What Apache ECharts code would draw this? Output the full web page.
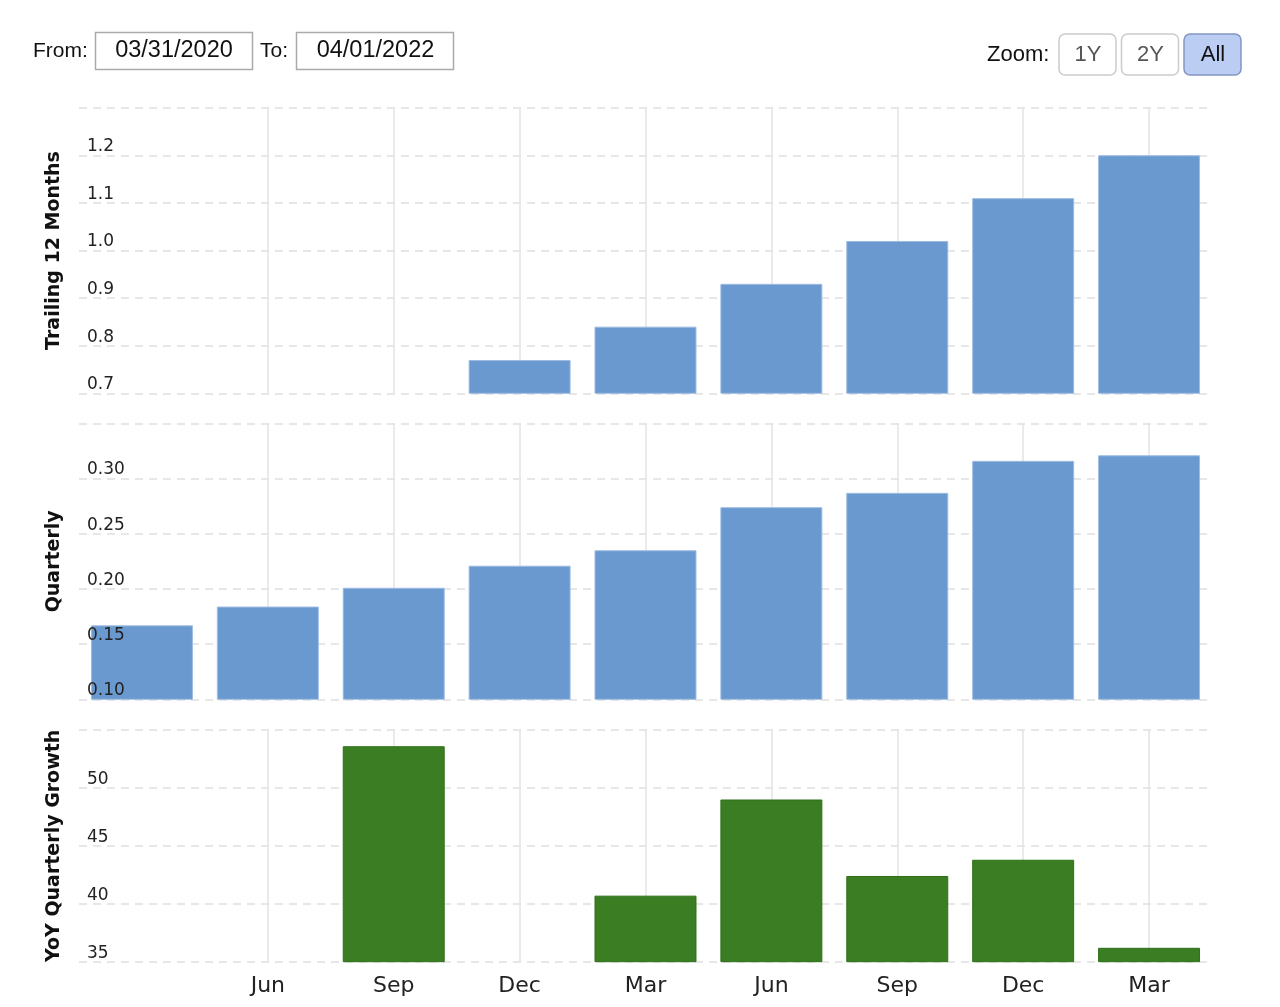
<!DOCTYPE html>
<html><head><meta charset="utf-8">
<script src="https://cdn.jsdelivr.net/npm/echarts@6/dist/echarts.min.js"></script>
<style>html,body{margin:0;padding:0;background:#fff;}#c{width:1280px;height:1007px;}</style>
</head><body><div id="c"></div>
<script>
// ---- data ----
const quarters = ['2020-03-31','2020-06-30','2020-09-30','2020-12-31','2021-03-31','2021-06-30','2021-09-30','2021-12-31','2022-03-31'];
const monthLabels = ['Mar','Jun','Sep','Dec','Mar','Jun','Sep','Dec','Mar'];
const ttmEps = [null, null, null, 0.77, 0.84, 0.93, 1.02, 1.11, 1.20];
const quarterlyEps = [0.167, 0.184, 0.201, 0.221, 0.235, 0.274, 0.287, 0.316, 0.321];
const yoyGrowth = [null, null, 53.6, null, 40.7, 49.0, 42.4, 43.8, 36.2];
const panelTitles = ['Trailing 12 Months', 'Quarterly', 'YoY Quarterly Growth'];
const fromDate = '03/31/2020';
const toDate = '04/01/2022';
const zoomButtons = ['1Y', '2Y', 'All'];

const FONT = 'DejaVu Sans';
const UIFONT = 'Liberation Sans';

const chart = echarts.init(document.getElementById('c'), null, {renderer: 'canvas'});

const grids = [
  {left: 79, right: 68, top: 107.7, height: 285.6},
  {left: 79, right: 68, top: 423.3, height: 276},
  {left: 79, right: 68, top: 730, height: 231.7}
];

function xAxisFor(i, showLabels) {
  return {
    type: 'category', gridIndex: i, data: quarters, boundaryGap: true,
    axisLine: {show: false}, axisTick: {show: false},
    axisLabel: {
      show: showLabels, interval: (idx) => idx > 0,
      formatter: (v, idx) => monthLabels[idx],
      fontFamily: FONT, fontSize: 22, color: '#222', margin: 14
    },
    splitLine: {
      show: true, alignWithLabel: true, interval: (idx) => idx > 0,
      lineStyle: {color: '#e3e3e3', width: 1.5}
    }
  };
}

function yPair(i, min, max, interval, name, decimals) {
  return [
    {
      type: 'value', gridIndex: i, position: 'left', min, max, interval,
      name, nameLocation: 'middle', nameGap: 15,
      nameTextStyle: {fontFamily: FONT, fontWeight: 'bold', fontSize: 19, color: '#111'},
      axisLine: {show: false}, axisTick: {show: false}, axisLabel: {show: false},
      splitLine: {show: true, lineStyle: {color: '#e0e0e0', width: 1.5, type: [8, 6]}}
    },
    {
      type: 'value', gridIndex: i, position: 'left', min, max, interval, z: 10,
      axisLine: {show: false}, axisTick: {show: false}, splitLine: {show: false},
      axisLabel: {
        inside: true, margin: 8, showMaxLabel: false, verticalAlign: 'bottom',
        lineHeight: 17,
        fontFamily: FONT, fontSize: 17, color: '#222',
        formatter: (v) => v.toFixed(decimals)
      }
    }
  ];
}

const yAxes = [].concat(
  yPair(0, 0.7, 1.3, 0.1, panelTitles[0], 1),
  yPair(1, 0.10, 0.35, 0.05, panelTitles[1], 2),
  yPair(2, 35, 55, 5, panelTitles[2], 0)
);

const blueStyle = {color: '#6a99cf', borderColor: '#9dbbe2', borderWidth: 1};
const greenStyle = {color: '#3a7d22', borderColor: '#2e7119', borderWidth: 1};

const header = [
  {type: 'text', x: 33, y: 51, style: {text: 'From:', fontFamily: UIFONT, fontSize: 21, fill: '#111', verticalAlign: 'middle', align: 'left'}},
  {type: 'rect', shape: {x: 95.5, y: 32.5, width: 157, height: 37}, style: {fill: '#fff', stroke: '#aaaaaa', lineWidth: 1.5}},
  {type: 'text', x: 174, y: 51, style: {text: fromDate, fontFamily: UIFONT, fontSize: 23.5, fill: '#111', verticalAlign: 'middle', align: 'center'}},
  {type: 'text', x: 260, y: 51, style: {text: 'To:', fontFamily: UIFONT, fontSize: 21, fill: '#111', verticalAlign: 'middle', align: 'left'}},
  {type: 'rect', shape: {x: 296.5, y: 32.5, width: 157, height: 37}, style: {fill: '#fff', stroke: '#aaaaaa', lineWidth: 1.5}},
  {type: 'text', x: 375.5, y: 51, style: {text: toDate, fontFamily: UIFONT, fontSize: 23.5, fill: '#111', verticalAlign: 'middle', align: 'center'}},
  {type: 'text', x: 987, y: 55, style: {text: 'Zoom:', fontFamily: UIFONT, fontSize: 22, fill: '#111', verticalAlign: 'middle', align: 'left'}}
];
const btnX = [1059, 1121.5, 1184];
zoomButtons.forEach((b, k) => {
  const active = k === zoomButtons.length - 1;
  header.push({type: 'rect', shape: {x: btnX[k], y: 34, width: 57, height: 41, r: 6},
    style: {fill: active ? '#bccdf3' : '#ffffff', stroke: active ? '#8295c4' : '#cccccc', lineWidth: 1.5}});
  header.push({type: 'text', x: btnX[k] + 29, y: 55, style: {text: b, fontFamily: UIFONT, fontSize: 22, fill: active ? '#111' : '#555', verticalAlign: 'middle', align: 'center'}});
});

chart.setOption({
  animation: false,
  backgroundColor: '#fff',
  grid: grids,
  xAxis: [xAxisFor(0, false), xAxisFor(1, false), xAxisFor(2, true)],
  yAxis: yAxes,
  graphic: header,
  series: [
    {type: 'bar', xAxisIndex: 0, yAxisIndex: 0, data: ttmEps, barWidth: '81%', itemStyle: blueStyle},
    {type: 'bar', xAxisIndex: 1, yAxisIndex: 2, data: quarterlyEps, barWidth: '81%', itemStyle: blueStyle},
    {type: 'bar', xAxisIndex: 2, yAxisIndex: 4, data: yoyGrowth, barWidth: '81%', itemStyle: greenStyle}
  ]
});
</script>
</body></html>
